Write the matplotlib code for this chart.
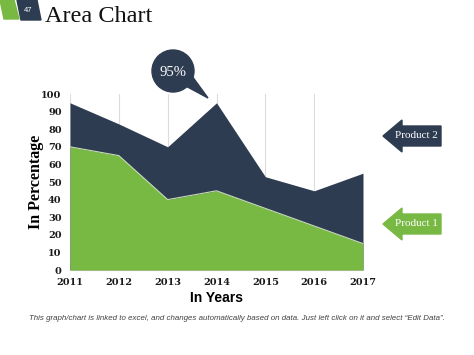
import matplotlib
matplotlib.use("Agg")
import matplotlib.pyplot as plt
from matplotlib.patches import Polygon, Circle

# data
years = [2011, 2012, 2013, 2014, 2015, 2016, 2017]
product_1 = [70, 65, 40, 45, 35, 25, 15]
product_2 = [95, 83, 70, 95, 53, 45, 55]
y_ticks = list(range(0, 101, 10))

NAVY = '#2e3c52'
GREEN = '#78b943'
SERIF = 'DejaVu Serif'
TIMES = 'Liberation Serif'

fig = plt.figure(figsize=(4.74, 3.55), dpi=100)
W, H = 474, 355

ax = fig.add_axes([70 / W, 1 - 270 / H, (363 - 70) / W, (270 - 94) / H])
ax.fill_between(years, product_2, 0, color=NAVY, lw=0, zorder=2)
ax.fill_between(years, product_1, 0, color=GREEN, lw=0, zorder=3)
ax.plot(years, product_1, color='#c8dcb8', lw=0.8, zorder=4)

ax.set_xlim(years[0], years[-1])
ax.set_ylim(0, 100)
ax.set_xticks(years)
ax.set_yticks(y_ticks)
ax.grid(axis='x', color='#dcdcdc', lw=0.8, zorder=1)
ax.set_axisbelow(True)
for s in ['top', 'right', 'left']:
    ax.spines[s].set_visible(False)
ax.spines['bottom'].set_color('#bfbfbf')
ax.spines['bottom'].set_linewidth(0.8)
ax.tick_params(length=0, pad=6)
for lab in ax.get_xticklabels() + ax.get_yticklabels():
    lab.set_fontfamily(SERIF)
    lab.set_fontweight('bold')
    lab.set_fontsize(7)
    lab.set_color('#1a1a1a')
ax.set_ylabel('In Percentage', family=TIMES, weight='bold', fontsize=11.5)
ax.yaxis.set_label_coords(-0.088, 0.5)
ax.set_xlabel('In Years', family='Liberation Sans', weight='bold', fontsize=10, labelpad=3)

# overlay in pixel coordinates for the decorations
ov = fig.add_axes([0, 0, 1, 1], zorder=10)
ov.set_xlim(0, W)
ov.set_ylim(H, 0)
ov.axis('off')
ov.patch.set_alpha(0)

# page marker top-left
ov.add_patch(Polygon([(0, 0), (14, 0), (19, 19), (4, 19)], color=GREEN))
ov.add_patch(Polygon([(17, 0), (37, 0), (41, 20), (21, 20)], color=NAVY))
ov.text(28, 10, '47', color='white', fontsize=5.5, ha='center', va='center', family='Liberation Sans')
ov.text(45, 22, 'Area Chart', fontsize=17.5, family=TIMES, color='#111111', va='baseline', ha='left')

# callout bubble
ov.add_patch(Polygon([(182, 84), (192, 76), (208, 98)], color=NAVY))
ov.add_patch(Circle((173, 71), 21, color=NAVY))
ov.text(173, 72, '95%', color='white', fontsize=10.5, family=TIMES, ha='center', va='center')

# product arrows
def arrow(cy, color, label):
    pts = [(383, cy), (402, cy - 16), (402, cy - 10), (441, cy - 10),
           (441, cy + 10), (402, cy + 10), (402, cy + 16)]
    ov.add_patch(Polygon(pts, color=color))
    ov.text(416, cy, label, color='white', fontsize=8, family=TIMES, ha='center', va='center')

arrow(136, NAVY, 'Product 2')
arrow(224, GREEN, 'Product 1')

ov.text(237, 318, 'This graph/chart is linked to excel, and changes automatically based on data. '
        'Just left click on it and select \u201cEdit Data\u201d.',
        fontsize=5.7, style='italic', color='#404040', family='Liberation Sans',
        ha='center', va='center')

fig.savefig('out.png', dpi=100)
